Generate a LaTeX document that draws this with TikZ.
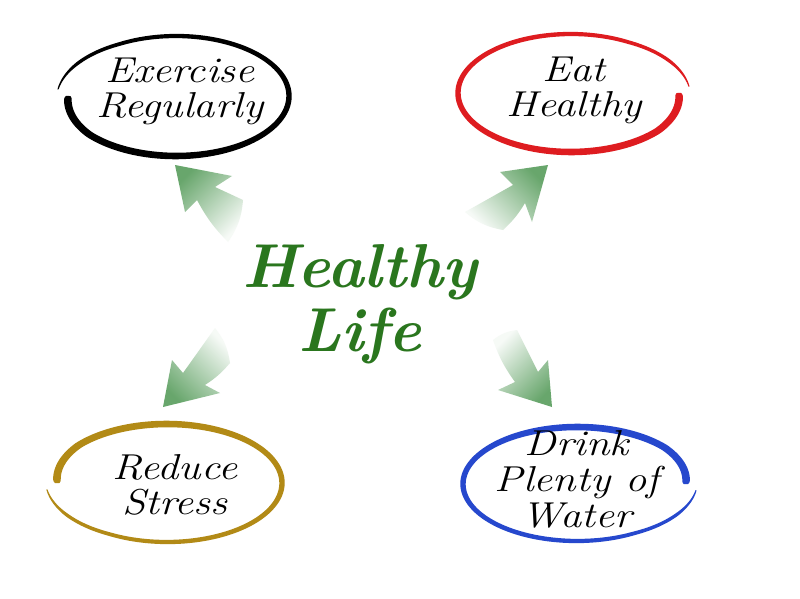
\documentclass[tikz,border=0pt]{standalone}
\usepackage{fontspec}
\definecolor{ringred}{RGB}{222,28,32}
\definecolor{ringgold}{RGB}{178,138,22}
\definecolor{ringblue}{RGB}{38,72,205}
\definecolor{lifegreen}{RGB}{42,118,30}
\definecolor{arrowgreen}{RGB}{104,166,108}
\newcommand\handring[7]{%
  \fill[#7] plot[domain=0:354,samples=180,variable=\s]
    ({#1+(#3*rf(\s)+wf(\s)/2)*cos(#5+(#6)*\s)},{#2+(#4*rf(\s)+wf(\s)/2)*sin(#5+(#6)*\s)})
    -- plot[domain=354:0,samples=180,variable=\s]
    ({#1+(#3*rf(\s)-wf(\s)/2)*cos(#5+(#6)*\s)},{#2+(#4*rf(\s)-wf(\s)/2)*sin(#5+(#6)*\s)}) -- cycle;}
\begin{document}
\begin{tikzpicture}[x=1pt,y=-1pt,
  declare function={rf(\u)=1-0.045*max(0,1-\u/40)+0.05*max(0,(\u-300)/54);
                    wf(\u)=(3.2+4.5*(1-\u/354))*min(1,(354-\u)/40+0.35)*min(1,\u/6+0.6);},
  ringtext/.style={font=\fontsize{36}{36}\selectfont\itshape, align=center, text=black, inner sep=0pt, xscale=1.18},
  bigtext/.style={font=\fontsize{62}{64}\selectfont\bfseries\itshape, align=center, text=lifegreen, inner sep=0pt, xscale=1.0},
  greenarrow/.style={top color=arrowgreen, middle color=arrowgreen!85, bottom color=arrowgreen!6}]
\useasboundingbox (0,0) rectangle (800,599);
\fill[white] (0,0) rectangle (800,599);

% rings
\handring{176}{96}{113}{60}{180}{-1}{black}
\handring{571}{93}{113}{59}{0}{1}{ringred}
\handring{167}{483}{115}{59}{180}{1}{ringgold}
\handring{577}{484}{114}{57}{0}{-1}{ringblue}

% texts
\node[ringtext] (ex) at (180,91) {Exercise\\[-1pt]Regularly};
\node[ringtext] (eat) at (574,90) {Eat\\[-1pt]Healthy};
\node[ringtext] (rs) at (175,485) {Reduce\\[-1pt]Stress};
\node[ringtext] (dw) at (577,479) {Drink\\[0pt]Plenty of\\[0pt]Water};
\node[bigtext] (hl) at (360,304) {Healthy\\Life};

% arrows
\shade[greenarrow, shading angle=45]
  (175,165) -- (232,176) -- (215,187) -- (243,200)
  to[bend left=15] (228,242) to[bend left=8] (197,200) -- (185,212) -- cycle;
\shade[greenarrow, shading angle=-45]
  (548,165) -- (500,172) -- (513,185) -- (465,212)
  to[bend right=15] (503,230) to[bend right=8] (525,203) -- (532,222) -- cycle;
\shade[greenarrow, shading angle=135]
  (163,407) -- (172,360) -- (183,373) -- (215,328)
  to[bend left=15] (230,363) to[bend left=8] (205,385) -- (220,393) -- cycle;
\shade[greenarrow, shading angle=-135]
  (552,407) -- (548,360) -- (538,372) -- (517,330)
  to[bend right=15] (493,340) to[bend right=8] (515,382) -- (498,390) -- cycle;
\end{tikzpicture}
\end{document}
